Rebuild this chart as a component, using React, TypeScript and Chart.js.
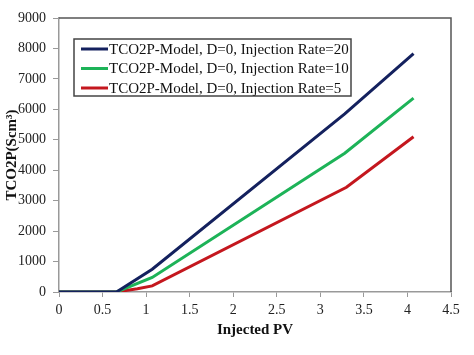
import React, { useEffect, useRef } from "react";
import { Chart, registerables } from "chart.js";

Chart.register(...registerables);

const xTicks = [0, 0.5, 1, 1.5, 2, 2.5, 3, 3.5, 4, 4.5];
const rate20X = [0, 0.66, 1.07, 3.28, 4.07];
const rate20Y = [0, 0, 750, 5850, 7830];
const rate10X = [0, 0.66, 1.07, 3.28, 4.07];
const rate10Y = [0, 0, 480, 4560, 6370];
const rate5X = [0, 0.66, 0.9, 1.07, 3.3, 4.07];
const rate5Y = [0, 0, 110, 200, 3440, 5100];
const seriesLabels = [
  "TCO2P-Model, D=0, Injection Rate=20",
  "TCO2P-Model, D=0, Injection Rate=10",
  "TCO2P-Model, D=0, Injection Rate=5",
];
const seriesColors = ["#14215e", "#1db358", "#c4171e"];

const FONT = "'Liberation Serif', 'Times New Roman', serif";

const framePlugin = {
  id: "frame",
  afterDatasetsDraw(chart: any) {
    const { ctx, chartArea } = chart;
    ctx.save();
    ctx.strokeStyle = "#555";
    ctx.lineWidth = 1.5;
    ctx.beginPath();
    ctx.moveTo(chartArea.left, chartArea.top);
    ctx.lineTo(chartArea.right, chartArea.top);
    ctx.lineTo(chartArea.right, chartArea.bottom);
    ctx.stroke();
    ctx.restore();
  },
};

const legendPlugin = {
  id: "boxLegend",
  afterDraw(chart: any) {
    const { ctx, chartArea } = chart;
    const x = chartArea.left + 15;
    const y = chartArea.top + 21;
    const w = 277;
    const h = 57;
    ctx.save();
    ctx.fillStyle = "#fff";
    ctx.fillRect(x, y, w, h);
    ctx.strokeStyle = "#444";
    ctx.lineWidth = 1.5;
    ctx.strokeRect(x, y, w, h);
    ctx.font = `15px ${FONT}`;
    ctx.textBaseline = "middle";
    ctx.fillStyle = "#111";
    chart.data.datasets.forEach((ds: any, i: number) => {
      const cy = y + 10 + i * 19.5;
      ctx.strokeStyle = ds.borderColor;
      ctx.lineWidth = 3;
      ctx.beginPath();
      ctx.moveTo(x + 7, cy);
      ctx.lineTo(x + 34, cy);
      ctx.stroke();
      ctx.fillText(ds.label, x + 35, cy + 1);
    });
    ctx.restore();
  },
};

export default function App() {
  const ref = useRef<HTMLCanvasElement>(null);
  useEffect(() => {
    const toPts = (xs: number[], ys: number[]) => xs.map((v, i) => ({ x: v, y: ys[i] }));
    const chart = new Chart(ref.current!, {
      type: "line",
      data: {
        datasets: [
          { label: seriesLabels[0], data: toPts(rate20X, rate20Y), borderColor: seriesColors[0] },
          { label: seriesLabels[1], data: toPts(rate10X, rate10Y), borderColor: seriesColors[1] },
          { label: seriesLabels[2], data: toPts(rate5X, rate5Y), borderColor: seriesColors[2] },
        ].map((d) => ({ ...d, borderWidth: 3, pointRadius: 0, tension: 0, fill: false })),
      },
      options: {
        animation: false,
        responsive: false,
        maintainAspectRatio: false,
        layout: { padding: { left: 0, right: 23, top: 18, bottom: 0 } },
        plugins: { legend: { display: false }, tooltip: { enabled: false } },
        scales: {
          x: {
            type: "linear",
            min: 0,
            max: 4.5,
            afterBuildTicks: (s: any) => {
              s.ticks = xTicks.map((v) => ({ value: v }));
            },
            afterFit: (s: any) => {
              s.height = 63;
            },
            ticks: {
              color: "#222",
              font: { family: FONT, size: 14 },
              padding: 5,
              callback: (v: any) => String(v),
            },
            grid: { display: true, drawOnChartArea: false, tickLength: 5, color: "#999" },
            border: { color: "#999", width: 1.5 },
            title: {
              display: true,
              text: "Injected PV",
              color: "#111",
              font: { family: FONT, size: 15, weight: "bold" },
              padding: { top: 0, bottom: 16 },
            },
          },
          y: {
            min: 0,
            max: 9000,
            ticks: {
              stepSize: 1000,
              color: "#222",
              font: { family: FONT, size: 14 },
              padding: 7,
              callback: (v: any) => String(v),
            },
            afterFit: (s: any) => {
              s.width = 59;
            },
            grid: { display: true, drawOnChartArea: false, tickLength: 6, color: "#999" },
            border: { color: "#999", width: 1.5 },
            title: {
              display: true,
              text: "TCO2P(Scm³)",
              color: "#111",
              font: { family: FONT, size: 15, weight: "bold" },
              padding: { top: 3, bottom: 0 },
            },
          },
        },
      },
      plugins: [framePlugin, legendPlugin],
    });
    return () => chart.destroy();
  }, []);
  return (
    <div style={{ position: "absolute", left: 0, top: 0, width: 474, height: 355, background: "#fff" }}>
      <canvas ref={ref} width={474} height={355} style={{ width: 474, height: 355 }} />
    </div>
  );
}
